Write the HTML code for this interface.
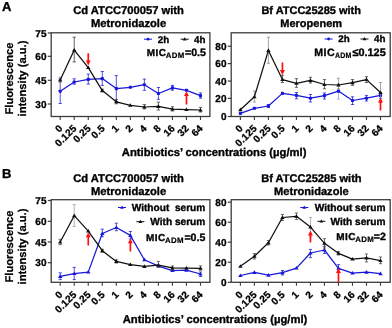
<!DOCTYPE html>
<html><head><meta charset="utf-8"><title>Figure</title>
<style>
html,body{margin:0;padding:0;background:#fff;}
svg{display:block}
text{font-family:"Liberation Sans",sans-serif;font-weight:bold;fill:#000;stroke:#000;stroke-width:0.35px;stroke-linejoin:round;text-rendering:geometricPrecision}
.pl{font-size:13px}
.tt{font-size:11.2px}
.tk{font-size:10px;letter-spacing:0.15px;stroke-width:0.3px}
.xt{font-size:10px;letter-spacing:0.2px;stroke-width:0.28px}
.yl{font-size:11.2px;stroke-width:0.22px}
.xl{font-size:11.25px}
.lg{font-size:9.8px}
.mic{font-size:10.6px}
.sub{font-size:8px;stroke-width:0.2px;letter-spacing:0.3px}
</style></head>
<body>
<svg width="392" height="328" viewBox="0 0 392 328">
<rect width="392" height="328" fill="#fff"/>
<text x="2.1" y="11.2" class="pl">A</text>
<text x="1.9" y="178.3" class="pl">B</text>
<rect x="51.2" y="32.8" width="158.7" height="83.7" fill="none" stroke="#3c3c3c" stroke-width="1.3"/>
<text x="128.6" y="13.7" class="tt" style="font-size:11.2px" text-anchor="middle">Cd ATCC700057 with</text>
<text x="128.6" y="26.9" class="tt" style="font-size:11.2px" text-anchor="middle">Metronidazole</text>
<line x1="47.8" y1="33.0" x2="51.2" y2="33.0" stroke="#3c3c3c" stroke-width="1.2"/>
<text x="46.8" y="36.75" text-anchor="end" class="tk">75</text>
<line x1="47.8" y1="56.3" x2="51.2" y2="56.3" stroke="#3c3c3c" stroke-width="1.2"/>
<text x="46.8" y="60.05" text-anchor="end" class="tk">60</text>
<line x1="47.8" y1="80.3" x2="51.2" y2="80.3" stroke="#3c3c3c" stroke-width="1.2"/>
<text x="46.8" y="84.05" text-anchor="end" class="tk">45</text>
<line x1="47.8" y1="104" x2="51.2" y2="104" stroke="#3c3c3c" stroke-width="1.2"/>
<text x="46.8" y="107.75" text-anchor="end" class="tk">30</text>
<line x1="60.20" y1="116.5" x2="60.20" y2="120.0" stroke="#3c3c3c" stroke-width="1.1"/>
<text transform="translate(63.40,128.90) rotate(-45)" text-anchor="end" class="xt">0</text>
<line x1="74.23" y1="116.5" x2="74.23" y2="120.0" stroke="#3c3c3c" stroke-width="1.1"/>
<text transform="translate(77.43,128.90) rotate(-45)" text-anchor="end" class="xt">0.125</text>
<line x1="88.26" y1="116.5" x2="88.26" y2="120.0" stroke="#3c3c3c" stroke-width="1.1"/>
<text transform="translate(91.46,128.90) rotate(-45)" text-anchor="end" class="xt">0.25</text>
<line x1="102.29" y1="116.5" x2="102.29" y2="120.0" stroke="#3c3c3c" stroke-width="1.1"/>
<text transform="translate(105.49,128.90) rotate(-45)" text-anchor="end" class="xt">0.5</text>
<line x1="116.32" y1="116.5" x2="116.32" y2="120.0" stroke="#3c3c3c" stroke-width="1.1"/>
<text transform="translate(119.52,128.90) rotate(-45)" text-anchor="end" class="xt">1</text>
<line x1="130.35" y1="116.5" x2="130.35" y2="120.0" stroke="#3c3c3c" stroke-width="1.1"/>
<text transform="translate(133.55,128.90) rotate(-45)" text-anchor="end" class="xt">2</text>
<line x1="144.38" y1="116.5" x2="144.38" y2="120.0" stroke="#3c3c3c" stroke-width="1.1"/>
<text transform="translate(147.58,128.90) rotate(-45)" text-anchor="end" class="xt">4</text>
<line x1="158.41" y1="116.5" x2="158.41" y2="120.0" stroke="#3c3c3c" stroke-width="1.1"/>
<text transform="translate(161.61,128.90) rotate(-45)" text-anchor="end" class="xt">8</text>
<line x1="172.44" y1="116.5" x2="172.44" y2="120.0" stroke="#3c3c3c" stroke-width="1.1"/>
<text transform="translate(175.64,128.90) rotate(-45)" text-anchor="end" class="xt">16</text>
<line x1="186.47" y1="116.5" x2="186.47" y2="120.0" stroke="#3c3c3c" stroke-width="1.1"/>
<text transform="translate(189.67,128.90) rotate(-45)" text-anchor="end" class="xt">32</text>
<line x1="200.50" y1="116.5" x2="200.50" y2="120.0" stroke="#3c3c3c" stroke-width="1.1"/>
<text transform="translate(203.70,128.90) rotate(-45)" text-anchor="end" class="xt">64</text>
<path d="M60.20 79V103.5M58.60 79h3.2M58.60 103.5h3.2" stroke="#1818d8" stroke-width="0.75" fill="none"/>
<path d="M74.23 78.8V84.2M72.63 78.8h3.2M72.63 84.2h3.2" stroke="#1818d8" stroke-width="0.75" fill="none"/>
<path d="M88.26 74V84.1M86.66 74h3.2M86.66 84.1h3.2" stroke="#1818d8" stroke-width="0.75" fill="none"/>
<path d="M102.29 71.5V85.4M100.69 71.5h3.2M100.69 85.4h3.2" stroke="#1818d8" stroke-width="0.75" fill="none"/>
<path d="M116.32 75.6V101.5M114.72 75.6h3.2M114.72 101.5h3.2" stroke="#1818d8" stroke-width="0.75" fill="none"/>
<path d="M144.38 79.1V90.3M142.78 79.1h3.2M142.78 90.3h3.2" stroke="#1818d8" stroke-width="0.75" fill="none"/>
<path d="M158.41 87.5V99.3M156.81 87.5h3.2M156.81 99.3h3.2" stroke="#1818d8" stroke-width="0.75" fill="none"/>
<path d="M172.44 85.4V90.2M170.84 85.4h3.2M170.84 90.2h3.2" stroke="#1818d8" stroke-width="0.75" fill="none"/>
<path d="M200.50 92.9V98.2M198.90 92.9h3.2M198.90 98.2h3.2" stroke="#1818d8" stroke-width="0.75" fill="none"/>
<path d="M60.20 91.2 L74.23 82 L88.26 79.4 L102.29 78.6 L116.32 88.6 L130.35 87.3 L144.38 84.7 L158.41 93.5 L172.44 87.9 L186.47 90.3 L200.50 95.6" stroke="#1818d8" stroke-width="1.25" fill="none" stroke-linejoin="round"/>
<rect x="58.65" y="89.65" width="3.1" height="3.1" rx="0.7" fill="#1818d8"/>
<rect x="72.68" y="80.45" width="3.1" height="3.1" rx="0.7" fill="#1818d8"/>
<rect x="86.71" y="77.85" width="3.1" height="3.1" rx="0.7" fill="#1818d8"/>
<rect x="100.74" y="77.05" width="3.1" height="3.1" rx="0.7" fill="#1818d8"/>
<rect x="114.77" y="87.05" width="3.1" height="3.1" rx="0.7" fill="#1818d8"/>
<rect x="128.80" y="85.75" width="3.1" height="3.1" rx="0.7" fill="#1818d8"/>
<rect x="142.83" y="83.15" width="3.1" height="3.1" rx="0.7" fill="#1818d8"/>
<rect x="156.86" y="91.95" width="3.1" height="3.1" rx="0.7" fill="#1818d8"/>
<rect x="170.89" y="86.35" width="3.1" height="3.1" rx="0.7" fill="#1818d8"/>
<rect x="184.92" y="88.75" width="3.1" height="3.1" rx="0.7" fill="#1818d8"/>
<rect x="198.95" y="94.05" width="3.1" height="3.1" rx="0.7" fill="#1818d8"/>
<path d="M60.20 77.3V82.2M58.60 77.3h3.2M58.60 82.2h3.2" stroke="#777" stroke-width="0.75" fill="none"/>
<path d="M74.23 37.2V61.9M72.63 37.2h3.2M72.63 61.9h3.2" stroke="#333" stroke-width="0.75" fill="none"/>
<path d="M102.29 89.2V92M100.69 89.2h3.2M100.69 92h3.2" stroke="#333" stroke-width="0.75" fill="none"/>
<path d="M116.32 99.6V103.8M114.72 99.6h3.2M114.72 103.8h3.2" stroke="#333" stroke-width="0.75" fill="none"/>
<path d="M144.38 104.6V108.9M142.78 104.6h3.2M142.78 108.9h3.2" stroke="#333" stroke-width="0.75" fill="none"/>
<path d="M158.41 102.1V110M156.81 102.1h3.2M156.81 110h3.2" stroke="#333" stroke-width="0.75" fill="none"/>
<path d="M172.44 106.8V111M170.84 106.8h3.2M170.84 111h3.2" stroke="#333" stroke-width="0.75" fill="none"/>
<path d="M200.50 107.4V112M198.90 107.4h3.2M198.90 112h3.2" stroke="#333" stroke-width="0.75" fill="none"/>
<path d="M60.20 80.0 L74.23 50.1 L88.26 67.6 L102.29 90.6 L116.32 101.8 L130.35 105.3 L144.38 107 L158.41 106.4 L172.44 109.1 L186.47 109.6 L200.50 110" stroke="#111" stroke-width="1.25" fill="none" stroke-linejoin="round"/>
<path d="M60.20 77.90l2.2 3.6h-4.4z" fill="#111"/>
<path d="M74.23 48.00l2.2 3.6h-4.4z" fill="#111"/>
<path d="M88.26 65.50l2.2 3.6h-4.4z" fill="#111"/>
<path d="M102.29 88.50l2.2 3.6h-4.4z" fill="#111"/>
<path d="M116.32 99.70l2.2 3.6h-4.4z" fill="#111"/>
<path d="M130.35 103.20l2.2 3.6h-4.4z" fill="#111"/>
<path d="M144.38 104.90l2.2 3.6h-4.4z" fill="#111"/>
<path d="M158.41 104.30l2.2 3.6h-4.4z" fill="#111"/>
<path d="M172.44 107.00l2.2 3.6h-4.4z" fill="#111"/>
<path d="M186.47 107.50l2.2 3.6h-4.4z" fill="#111"/>
<path d="M200.50 107.90l2.2 3.6h-4.4z" fill="#111"/>
<path d="M87.41 53.30H89.11V60.60H90.71L88.26 65.40L85.81 60.60H87.41Z" fill="#ff1010"/>
<path d="M185.62 104.40H187.32V96.10H188.92L186.47 91.30L184.02 96.10H185.62Z" fill="#ff1010"/>
<line x1="144" y1="39.2" x2="152" y2="39.2" stroke="#1818d8" stroke-width="1"/>
<circle cx="148" cy="39.2" r="1.4" fill="#1818d8"/>
<text x="157.8" y="42.5" class="lg" style="font-size:9.8px" text-anchor="start" xml:space="preserve">2h</text>
<line x1="180.7" y1="39.2" x2="188.7" y2="39.2" stroke="#111" stroke-width="1"/>
<path d="M184.7 37.3l1.9 3.1h-3.8z" fill="#111"/>
<text x="194" y="42.5" class="lg" style="font-size:9.8px" text-anchor="start" xml:space="preserve">4h</text>
<text x="146.7" y="55.9" class="mic" style="font-size:10.0px;letter-spacing:0.45px">MIC</text>
<text x="165.7" y="58.2" class="sub" style="font-size:8.0px" textLength="18.8" lengthAdjust="spacingAndGlyphs">ADM</text>
<text x="205.9" y="55.9" class="mic" style="font-size:10.6px" text-anchor="end">=0.5</text>
<text transform="translate(13.2,78.5) rotate(-90)" class="yl" text-anchor="middle">Fluorescence</text>
<text transform="translate(26.0,78.5) rotate(-90)" class="yl" text-anchor="middle">intensity (a.u.)</text>
<rect x="231.2" y="32.8" width="159.0" height="83.7" fill="none" stroke="#3c3c3c" stroke-width="1.3"/>
<text x="311.2" y="13.7" class="tt" style="font-size:11.0px" text-anchor="middle">Bf ATCC25285 with</text>
<text x="311.2" y="26.9" class="tt" style="font-size:11.0px" text-anchor="middle">Meropenem</text>
<line x1="227.8" y1="46.2" x2="231.2" y2="46.2" stroke="#3c3c3c" stroke-width="1.2"/>
<text x="226.8" y="49.95" text-anchor="end" class="tk">80</text>
<line x1="227.8" y1="63.6" x2="231.2" y2="63.6" stroke="#3c3c3c" stroke-width="1.2"/>
<text x="226.8" y="67.35" text-anchor="end" class="tk">60</text>
<line x1="227.8" y1="81" x2="231.2" y2="81" stroke="#3c3c3c" stroke-width="1.2"/>
<text x="226.8" y="84.75" text-anchor="end" class="tk">40</text>
<line x1="227.8" y1="98.4" x2="231.2" y2="98.4" stroke="#3c3c3c" stroke-width="1.2"/>
<text x="226.8" y="102.15" text-anchor="end" class="tk">20</text>
<line x1="227.8" y1="116.5" x2="231.2" y2="116.5" stroke="#3c3c3c" stroke-width="1.2"/>
<text x="226.8" y="120.25" text-anchor="end" class="tk">0</text>
<line x1="240.40" y1="116.5" x2="240.40" y2="120.0" stroke="#3c3c3c" stroke-width="1.1"/>
<text transform="translate(243.60,128.90) rotate(-45)" text-anchor="end" class="xt">0</text>
<line x1="254.41" y1="116.5" x2="254.41" y2="120.0" stroke="#3c3c3c" stroke-width="1.1"/>
<text transform="translate(257.61,128.90) rotate(-45)" text-anchor="end" class="xt">0.125</text>
<line x1="268.42" y1="116.5" x2="268.42" y2="120.0" stroke="#3c3c3c" stroke-width="1.1"/>
<text transform="translate(271.62,128.90) rotate(-45)" text-anchor="end" class="xt">0.25</text>
<line x1="282.43" y1="116.5" x2="282.43" y2="120.0" stroke="#3c3c3c" stroke-width="1.1"/>
<text transform="translate(285.63,128.90) rotate(-45)" text-anchor="end" class="xt">0.5</text>
<line x1="296.44" y1="116.5" x2="296.44" y2="120.0" stroke="#3c3c3c" stroke-width="1.1"/>
<text transform="translate(299.64,128.90) rotate(-45)" text-anchor="end" class="xt">1</text>
<line x1="310.45" y1="116.5" x2="310.45" y2="120.0" stroke="#3c3c3c" stroke-width="1.1"/>
<text transform="translate(313.65,128.90) rotate(-45)" text-anchor="end" class="xt">2</text>
<line x1="324.46" y1="116.5" x2="324.46" y2="120.0" stroke="#3c3c3c" stroke-width="1.1"/>
<text transform="translate(327.66,128.90) rotate(-45)" text-anchor="end" class="xt">4</text>
<line x1="338.47" y1="116.5" x2="338.47" y2="120.0" stroke="#3c3c3c" stroke-width="1.1"/>
<text transform="translate(341.67,128.90) rotate(-45)" text-anchor="end" class="xt">8</text>
<line x1="352.48" y1="116.5" x2="352.48" y2="120.0" stroke="#3c3c3c" stroke-width="1.1"/>
<text transform="translate(355.68,128.90) rotate(-45)" text-anchor="end" class="xt">16</text>
<line x1="366.49" y1="116.5" x2="366.49" y2="120.0" stroke="#3c3c3c" stroke-width="1.1"/>
<text transform="translate(369.69,128.90) rotate(-45)" text-anchor="end" class="xt">32</text>
<line x1="380.50" y1="116.5" x2="380.50" y2="120.0" stroke="#3c3c3c" stroke-width="1.1"/>
<text transform="translate(383.70,128.90) rotate(-45)" text-anchor="end" class="xt">64</text>
<path d="M268.42 104.5V107.5M266.82 104.5h3.2M266.82 107.5h3.2" stroke="#1818d8" stroke-width="0.75" fill="none"/>
<path d="M296.44 92.5V98.8M294.84 92.5h3.2M294.84 98.8h3.2" stroke="#1818d8" stroke-width="0.75" fill="none"/>
<path d="M310.45 94.5V102M308.85 94.5h3.2M308.85 102h3.2" stroke="#1818d8" stroke-width="0.75" fill="none"/>
<path d="M324.46 93V99M322.86 93h3.2M322.86 99h3.2" stroke="#1818d8" stroke-width="0.75" fill="none"/>
<path d="M338.47 83.9V99M336.87 83.9h3.2M336.87 99h3.2" stroke="#9a9ae8" stroke-width="0.75" fill="none"/>
<path d="M352.48 96.8V104.5M350.88 96.8h3.2M350.88 104.5h3.2" stroke="#1818d8" stroke-width="0.75" fill="none"/>
<path d="M366.49 95.4V101M364.89 95.4h3.2M364.89 101h3.2" stroke="#1818d8" stroke-width="0.75" fill="none"/>
<path d="M380.50 92.5V98.3M378.90 92.5h3.2M378.90 98.3h3.2" stroke="#1818d8" stroke-width="0.75" fill="none"/>
<path d="M240.40 113.4 L254.41 108.3 L268.42 106 L282.43 93.4 L296.44 95.4 L310.45 98.2 L324.46 95.6 L338.47 91.1 L352.48 100.5 L366.49 98.2 L380.50 95.4" stroke="#1818d8" stroke-width="1.25" fill="none" stroke-linejoin="round"/>
<rect x="238.85" y="111.85" width="3.1" height="3.1" rx="0.7" fill="#1818d8"/>
<rect x="252.86" y="106.75" width="3.1" height="3.1" rx="0.7" fill="#1818d8"/>
<rect x="266.87" y="104.45" width="3.1" height="3.1" rx="0.7" fill="#1818d8"/>
<rect x="280.88" y="91.85" width="3.1" height="3.1" rx="0.7" fill="#1818d8"/>
<rect x="294.89" y="93.85" width="3.1" height="3.1" rx="0.7" fill="#1818d8"/>
<rect x="308.90" y="96.65" width="3.1" height="3.1" rx="0.7" fill="#1818d8"/>
<rect x="322.91" y="94.05" width="3.1" height="3.1" rx="0.7" fill="#1818d8"/>
<rect x="336.92" y="89.55" width="3.1" height="3.1" rx="0.7" fill="#1818d8"/>
<rect x="350.93" y="98.95" width="3.1" height="3.1" rx="0.7" fill="#1818d8"/>
<rect x="364.94" y="96.65" width="3.1" height="3.1" rx="0.7" fill="#1818d8"/>
<rect x="378.95" y="93.85" width="3.1" height="3.1" rx="0.7" fill="#1818d8"/>
<path d="M254.41 91V102M252.81 91h3.2M252.81 102h3.2" stroke="#888" stroke-width="0.75" fill="none"/>
<path d="M268.42 37.2V63.3M266.82 37.2h3.2M266.82 63.3h3.2" stroke="#888" stroke-width="0.75" fill="none"/>
<path d="M282.43 75.3V82.5M280.83 75.3h3.2M280.83 82.5h3.2" stroke="#333" stroke-width="0.75" fill="none"/>
<path d="M296.44 78.7V87.3M294.84 78.7h3.2M294.84 87.3h3.2" stroke="#333" stroke-width="0.75" fill="none"/>
<path d="M310.45 77.3V83M308.85 77.3h3.2M308.85 83h3.2" stroke="#333" stroke-width="0.75" fill="none"/>
<path d="M324.46 79.6V88.8M322.86 79.6h3.2M322.86 88.8h3.2" stroke="#333" stroke-width="0.75" fill="none"/>
<path d="M338.47 78.2V88.8M336.87 78.2h3.2M336.87 88.8h3.2" stroke="#888" stroke-width="0.75" fill="none"/>
<path d="M352.48 79.6V85.3M350.88 79.6h3.2M350.88 85.3h3.2" stroke="#333" stroke-width="0.75" fill="none"/>
<path d="M366.49 76.7V82.5M364.89 76.7h3.2M364.89 82.5h3.2" stroke="#333" stroke-width="0.75" fill="none"/>
<path d="M380.50 82.5V102.5M378.90 82.5h3.2M378.90 102.5h3.2" stroke="#888" stroke-width="0.75" fill="none"/>
<path d="M240.40 109.7 L254.41 96.8 L268.42 50.4 L282.43 79.6 L296.44 83.3 L310.45 80.4 L324.46 84.5 L338.47 85 L352.48 82.7 L366.49 79.6 L380.50 92.5" stroke="#111" stroke-width="1.25" fill="none" stroke-linejoin="round"/>
<path d="M240.40 107.60l2.2 3.6h-4.4z" fill="#111"/>
<path d="M254.41 94.70l2.2 3.6h-4.4z" fill="#111"/>
<path d="M268.42 48.30l2.2 3.6h-4.4z" fill="#111"/>
<path d="M282.43 77.50l2.2 3.6h-4.4z" fill="#111"/>
<path d="M296.44 81.20l2.2 3.6h-4.4z" fill="#111"/>
<path d="M310.45 78.30l2.2 3.6h-4.4z" fill="#111"/>
<path d="M324.46 82.40l2.2 3.6h-4.4z" fill="#111"/>
<path d="M338.47 82.90l2.2 3.6h-4.4z" fill="#111"/>
<path d="M352.48 80.60l2.2 3.6h-4.4z" fill="#111"/>
<path d="M366.49 77.50l2.2 3.6h-4.4z" fill="#111"/>
<path d="M380.50 90.40l2.2 3.6h-4.4z" fill="#111"/>
<path d="M281.58 62.50H283.28V70.10H284.88L282.43 74.90L279.98 70.10H281.58Z" fill="#ff1010"/>
<path d="M379.65 110.50H381.35V102.50H382.95L380.50 97.70L378.05 102.50H379.65Z" fill="#ff1010"/>
<line x1="324.6" y1="39" x2="332.6" y2="39" stroke="#1818d8" stroke-width="1"/>
<circle cx="328.6" cy="39" r="1.4" fill="#1818d8"/>
<text x="338.2" y="42.2" class="lg" style="font-size:9.8px" text-anchor="start" xml:space="preserve">2h</text>
<line x1="360.5" y1="39" x2="368.5" y2="39" stroke="#111" stroke-width="1"/>
<path d="M364.5 37.1l1.9 3.1h-3.8z" fill="#111"/>
<text x="374" y="42.2" class="lg" style="font-size:9.8px" text-anchor="start" xml:space="preserve">4h</text>
<text x="314.2" y="56.1" class="mic" style="font-size:10.6px;letter-spacing:0.5px">MIC</text>
<text x="334.9" y="58.4" class="sub" style="font-size:8.0px" textLength="16.8" lengthAdjust="spacingAndGlyphs">ADM</text>
<text x="385.7" y="56.1" class="mic" style="font-size:10.9px" text-anchor="end">≤0.125</text>
<text x="214.1" y="156.2" class="xl" text-anchor="middle">Antibiotics’ concentrations (µg/ml)</text>
<rect x="51.2" y="199.7" width="158.7" height="82.6" fill="none" stroke="#3c3c3c" stroke-width="1.3"/>
<text x="128.6" y="181.5" class="tt" style="font-size:11.2px" text-anchor="middle">Cd ATCC700057 with</text>
<text x="128.6" y="194.7" class="tt" style="font-size:11.2px" text-anchor="middle">Metronidazole</text>
<line x1="47.8" y1="200.5" x2="51.2" y2="200.5" stroke="#3c3c3c" stroke-width="1.2"/>
<text x="46.8" y="204.25" text-anchor="end" class="tk">75</text>
<line x1="47.8" y1="221.3" x2="51.2" y2="221.3" stroke="#3c3c3c" stroke-width="1.2"/>
<text x="46.8" y="225.05" text-anchor="end" class="tk">60</text>
<line x1="47.8" y1="242" x2="51.2" y2="242" stroke="#3c3c3c" stroke-width="1.2"/>
<text x="46.8" y="245.75" text-anchor="end" class="tk">45</text>
<line x1="47.8" y1="262.7" x2="51.2" y2="262.7" stroke="#3c3c3c" stroke-width="1.2"/>
<text x="46.8" y="266.45" text-anchor="end" class="tk">30</text>
<line x1="60.20" y1="282.3" x2="60.20" y2="285.8" stroke="#3c3c3c" stroke-width="1.1"/>
<text transform="translate(63.40,295.20) rotate(-45)" text-anchor="end" class="xt">0</text>
<line x1="74.23" y1="282.3" x2="74.23" y2="285.8" stroke="#3c3c3c" stroke-width="1.1"/>
<text transform="translate(77.43,295.20) rotate(-45)" text-anchor="end" class="xt">0.125</text>
<line x1="88.26" y1="282.3" x2="88.26" y2="285.8" stroke="#3c3c3c" stroke-width="1.1"/>
<text transform="translate(91.46,295.20) rotate(-45)" text-anchor="end" class="xt">0.25</text>
<line x1="102.29" y1="282.3" x2="102.29" y2="285.8" stroke="#3c3c3c" stroke-width="1.1"/>
<text transform="translate(105.49,295.20) rotate(-45)" text-anchor="end" class="xt">0.5</text>
<line x1="116.32" y1="282.3" x2="116.32" y2="285.8" stroke="#3c3c3c" stroke-width="1.1"/>
<text transform="translate(119.52,295.20) rotate(-45)" text-anchor="end" class="xt">1</text>
<line x1="130.35" y1="282.3" x2="130.35" y2="285.8" stroke="#3c3c3c" stroke-width="1.1"/>
<text transform="translate(133.55,295.20) rotate(-45)" text-anchor="end" class="xt">2</text>
<line x1="144.38" y1="282.3" x2="144.38" y2="285.8" stroke="#3c3c3c" stroke-width="1.1"/>
<text transform="translate(147.58,295.20) rotate(-45)" text-anchor="end" class="xt">4</text>
<line x1="158.41" y1="282.3" x2="158.41" y2="285.8" stroke="#3c3c3c" stroke-width="1.1"/>
<text transform="translate(161.61,295.20) rotate(-45)" text-anchor="end" class="xt">8</text>
<line x1="172.44" y1="282.3" x2="172.44" y2="285.8" stroke="#3c3c3c" stroke-width="1.1"/>
<text transform="translate(175.64,295.20) rotate(-45)" text-anchor="end" class="xt">16</text>
<line x1="186.47" y1="282.3" x2="186.47" y2="285.8" stroke="#3c3c3c" stroke-width="1.1"/>
<text transform="translate(189.67,295.20) rotate(-45)" text-anchor="end" class="xt">32</text>
<line x1="200.50" y1="282.3" x2="200.50" y2="285.8" stroke="#3c3c3c" stroke-width="1.1"/>
<text transform="translate(203.70,295.20) rotate(-45)" text-anchor="end" class="xt">64</text>
<path d="M60.20 272.8V279.6M58.60 272.8h3.2M58.60 279.6h3.2" stroke="#1818d8" stroke-width="0.75" fill="none"/>
<path d="M74.23 267.4V279.6M72.63 267.4h3.2M72.63 279.6h3.2" stroke="#1818d8" stroke-width="0.75" fill="none"/>
<path d="M102.29 229.2V236.7M100.69 229.2h3.2M100.69 236.7h3.2" stroke="#1818d8" stroke-width="0.75" fill="none"/>
<path d="M116.32 223.2V230.7M114.72 223.2h3.2M114.72 230.7h3.2" stroke="#1818d8" stroke-width="0.75" fill="none"/>
<path d="M130.35 231.5V239M128.75 231.5h3.2M128.75 239h3.2" stroke="#1818d8" stroke-width="0.75" fill="none"/>
<path d="M200.50 272V276.6M198.90 272h3.2M198.90 276.6h3.2" stroke="#1818d8" stroke-width="0.75" fill="none"/>
<path d="M60.20 276.4 L74.23 273.6 L88.26 272.1 L102.29 233.5 L116.32 227.5 L130.35 235.4 L144.38 259.7 L158.41 266.1 L172.44 270.6 L186.47 270.2 L200.50 274.0" stroke="#1818d8" stroke-width="1.25" fill="none" stroke-linejoin="round"/>
<path d="M60.20 274.30l2.2 3.6h-4.4z" fill="#1818d8"/>
<path d="M74.23 271.50l2.2 3.6h-4.4z" fill="#1818d8"/>
<path d="M88.26 270.00l2.2 3.6h-4.4z" fill="#1818d8"/>
<path d="M102.29 231.40l2.2 3.6h-4.4z" fill="#1818d8"/>
<path d="M116.32 225.40l2.2 3.6h-4.4z" fill="#1818d8"/>
<path d="M130.35 233.30l2.2 3.6h-4.4z" fill="#1818d8"/>
<path d="M144.38 257.60l2.2 3.6h-4.4z" fill="#1818d8"/>
<path d="M158.41 264.00l2.2 3.6h-4.4z" fill="#1818d8"/>
<path d="M172.44 268.50l2.2 3.6h-4.4z" fill="#1818d8"/>
<path d="M186.47 268.10l2.2 3.6h-4.4z" fill="#1818d8"/>
<path d="M200.50 271.90l2.2 3.6h-4.4z" fill="#1818d8"/>
<path d="M60.20 239.3V244.7M58.60 239.3h3.2M58.60 244.7h3.2" stroke="#444" stroke-width="0.75" fill="none"/>
<path d="M74.23 204.6V226.4M72.63 204.6h3.2M72.63 226.4h3.2" stroke="#999" stroke-width="0.75" fill="none"/>
<path d="M102.29 249.3V252.2M100.69 249.3h3.2M100.69 252.2h3.2" stroke="#444" stroke-width="0.75" fill="none"/>
<path d="M116.32 259.8V263M114.72 259.8h3.2M114.72 263h3.2" stroke="#444" stroke-width="0.75" fill="none"/>
<path d="M158.41 261.4V267.2M156.81 261.4h3.2M156.81 267.2h3.2" stroke="#444" stroke-width="0.75" fill="none"/>
<path d="M172.44 266V269.8M170.84 266h3.2M170.84 269.8h3.2" stroke="#444" stroke-width="0.75" fill="none"/>
<path d="M200.50 265.9V270.2M198.90 265.9h3.2M198.90 270.2h3.2" stroke="#444" stroke-width="0.75" fill="none"/>
<path d="M60.20 242 L74.23 215.7 L88.26 231.1 L102.29 250.7 L116.32 261.4 L130.35 264.6 L144.38 266.4 L158.41 265.1 L172.44 267.9 L186.47 268.1 L200.50 268.3" stroke="#111" stroke-width="1.25" fill="none" stroke-linejoin="round"/>
<path d="M60.20 239.90l2.2 3.6h-4.4z" fill="#111"/>
<path d="M74.23 213.60l2.2 3.6h-4.4z" fill="#111"/>
<path d="M88.26 229.00l2.2 3.6h-4.4z" fill="#111"/>
<path d="M102.29 248.60l2.2 3.6h-4.4z" fill="#111"/>
<path d="M116.32 259.30l2.2 3.6h-4.4z" fill="#111"/>
<path d="M130.35 262.50l2.2 3.6h-4.4z" fill="#111"/>
<path d="M144.38 264.30l2.2 3.6h-4.4z" fill="#111"/>
<path d="M158.41 263.00l2.2 3.6h-4.4z" fill="#111"/>
<path d="M172.44 265.80l2.2 3.6h-4.4z" fill="#111"/>
<path d="M186.47 266.00l2.2 3.6h-4.4z" fill="#111"/>
<path d="M200.50 266.20l2.2 3.6h-4.4z" fill="#111"/>
<path d="M87.41 245.40H89.11V237.20H90.71L88.26 232.40L85.81 237.20H87.41Z" fill="#ff1010"/>
<path d="M129.50 251.50H131.20V243.20H132.80L130.35 238.40L127.90 243.20H129.50Z" fill="#ff1010"/>
<line x1="118" y1="207.5" x2="126" y2="207.5" stroke="#1818d8" stroke-width="1"/>
<path d="M122 205.6l1.9 3.1h-3.8z" fill="#1818d8"/>
<text x="205.3" y="210.6" class="lg" style="font-size:10.15px" text-anchor="end" xml:space="preserve">Without  serum</text>
<line x1="136.4" y1="221.7" x2="144.4" y2="221.7" stroke="#111" stroke-width="1"/>
<path d="M140.4 219.8l1.9 3.1h-3.8z" fill="#111"/>
<text x="205.3" y="225" class="lg" style="font-size:10.15px" text-anchor="end" xml:space="preserve">With serum</text>
<text x="146.1" y="240.8" class="mic" style="font-size:10.0px;letter-spacing:0.45px">MIC</text>
<text x="165.1" y="243.1" class="sub" style="font-size:8.0px" textLength="18.8" lengthAdjust="spacingAndGlyphs">ADM</text>
<text x="205.3" y="240.8" class="mic" style="font-size:10.6px" text-anchor="end">=0.5</text>
<text transform="translate(13.1,246.5) rotate(-90)" class="yl" text-anchor="middle">Fluorescence</text>
<text transform="translate(26.0,246.5) rotate(-90)" class="yl" text-anchor="middle">intensity (a.u.)</text>
<rect x="231.2" y="199.7" width="159.0" height="82.6" fill="none" stroke="#3c3c3c" stroke-width="1.3"/>
<text x="311.4" y="181.5" class="tt" style="font-size:11.1px" text-anchor="middle">Bf ATCC25285 with</text>
<text x="311.4" y="194.7" class="tt" style="font-size:11.1px" text-anchor="middle">Metronidazole</text>
<line x1="227.8" y1="202.2" x2="231.2" y2="202.2" stroke="#3c3c3c" stroke-width="1.2"/>
<text x="226.8" y="205.95" text-anchor="end" class="tk">80</text>
<line x1="227.8" y1="222.2" x2="231.2" y2="222.2" stroke="#3c3c3c" stroke-width="1.2"/>
<text x="226.8" y="225.95" text-anchor="end" class="tk">60</text>
<line x1="227.8" y1="242.2" x2="231.2" y2="242.2" stroke="#3c3c3c" stroke-width="1.2"/>
<text x="226.8" y="245.95" text-anchor="end" class="tk">40</text>
<line x1="227.8" y1="262.2" x2="231.2" y2="262.2" stroke="#3c3c3c" stroke-width="1.2"/>
<text x="226.8" y="265.95" text-anchor="end" class="tk">20</text>
<line x1="227.8" y1="282.3" x2="231.2" y2="282.3" stroke="#3c3c3c" stroke-width="1.2"/>
<text x="226.8" y="286.05" text-anchor="end" class="tk">0</text>
<line x1="240.40" y1="282.3" x2="240.40" y2="285.8" stroke="#3c3c3c" stroke-width="1.1"/>
<text transform="translate(243.60,295.20) rotate(-45)" text-anchor="end" class="xt">0</text>
<line x1="254.41" y1="282.3" x2="254.41" y2="285.8" stroke="#3c3c3c" stroke-width="1.1"/>
<text transform="translate(257.61,295.20) rotate(-45)" text-anchor="end" class="xt">0.125</text>
<line x1="268.42" y1="282.3" x2="268.42" y2="285.8" stroke="#3c3c3c" stroke-width="1.1"/>
<text transform="translate(271.62,295.20) rotate(-45)" text-anchor="end" class="xt">0.25</text>
<line x1="282.43" y1="282.3" x2="282.43" y2="285.8" stroke="#3c3c3c" stroke-width="1.1"/>
<text transform="translate(285.63,295.20) rotate(-45)" text-anchor="end" class="xt">0.5</text>
<line x1="296.44" y1="282.3" x2="296.44" y2="285.8" stroke="#3c3c3c" stroke-width="1.1"/>
<text transform="translate(299.64,295.20) rotate(-45)" text-anchor="end" class="xt">1</text>
<line x1="310.45" y1="282.3" x2="310.45" y2="285.8" stroke="#3c3c3c" stroke-width="1.1"/>
<text transform="translate(313.65,295.20) rotate(-45)" text-anchor="end" class="xt">2</text>
<line x1="324.46" y1="282.3" x2="324.46" y2="285.8" stroke="#3c3c3c" stroke-width="1.1"/>
<text transform="translate(327.66,295.20) rotate(-45)" text-anchor="end" class="xt">4</text>
<line x1="338.47" y1="282.3" x2="338.47" y2="285.8" stroke="#3c3c3c" stroke-width="1.1"/>
<text transform="translate(341.67,295.20) rotate(-45)" text-anchor="end" class="xt">8</text>
<line x1="352.48" y1="282.3" x2="352.48" y2="285.8" stroke="#3c3c3c" stroke-width="1.1"/>
<text transform="translate(355.68,295.20) rotate(-45)" text-anchor="end" class="xt">16</text>
<line x1="366.49" y1="282.3" x2="366.49" y2="285.8" stroke="#3c3c3c" stroke-width="1.1"/>
<text transform="translate(369.69,295.20) rotate(-45)" text-anchor="end" class="xt">32</text>
<line x1="380.50" y1="282.3" x2="380.50" y2="285.8" stroke="#3c3c3c" stroke-width="1.1"/>
<text transform="translate(383.70,295.20) rotate(-45)" text-anchor="end" class="xt">64</text>
<path d="M282.43 270.5V275M280.83 270.5h3.2M280.83 275h3.2" stroke="#1818d8" stroke-width="0.75" fill="none"/>
<path d="M310.45 249.4V257.6M308.85 249.4h3.2M308.85 257.6h3.2" stroke="#1818d8" stroke-width="0.75" fill="none"/>
<path d="M324.46 246.3V253.5M322.86 246.3h3.2M322.86 253.5h3.2" stroke="#1818d8" stroke-width="0.75" fill="none"/>
<path d="M338.47 264.6V272M336.87 264.6h3.2M336.87 272h3.2" stroke="#1818d8" stroke-width="0.75" fill="none"/>
<path d="M240.40 275.5 L254.41 272.4 L268.42 275.2 L282.43 272.7 L296.44 268.1 L310.45 253 L324.46 250 L338.47 268.3 L352.48 273.1 L366.49 272.2 L380.50 273.7" stroke="#1818d8" stroke-width="1.25" fill="none" stroke-linejoin="round"/>
<path d="M240.40 273.40l2.2 3.6h-4.4z" fill="#1818d8"/>
<path d="M254.41 270.30l2.2 3.6h-4.4z" fill="#1818d8"/>
<path d="M268.42 273.10l2.2 3.6h-4.4z" fill="#1818d8"/>
<path d="M282.43 270.60l2.2 3.6h-4.4z" fill="#1818d8"/>
<path d="M296.44 266.00l2.2 3.6h-4.4z" fill="#1818d8"/>
<path d="M310.45 250.90l2.2 3.6h-4.4z" fill="#1818d8"/>
<path d="M324.46 247.90l2.2 3.6h-4.4z" fill="#1818d8"/>
<path d="M338.47 266.20l2.2 3.6h-4.4z" fill="#1818d8"/>
<path d="M352.48 271.00l2.2 3.6h-4.4z" fill="#1818d8"/>
<path d="M366.49 270.10l2.2 3.6h-4.4z" fill="#1818d8"/>
<path d="M380.50 271.60l2.2 3.6h-4.4z" fill="#1818d8"/>
<path d="M254.41 253.5V259M252.81 253.5h3.2M252.81 259h3.2" stroke="#444" stroke-width="0.75" fill="none"/>
<path d="M268.42 240.5V245M266.82 240.5h3.2M266.82 245h3.2" stroke="#444" stroke-width="0.75" fill="none"/>
<path d="M282.43 214.5V220.5M280.83 214.5h3.2M280.83 220.5h3.2" stroke="#444" stroke-width="0.75" fill="none"/>
<path d="M296.44 213V219.5M294.84 213h3.2M294.84 219.5h3.2" stroke="#444" stroke-width="0.75" fill="none"/>
<path d="M310.45 217.4V237M308.85 217.4h3.2M308.85 237h3.2" stroke="#999" stroke-width="0.75" fill="none"/>
<path d="M324.46 238.7V248M322.86 238.7h3.2M322.86 248h3.2" stroke="#444" stroke-width="0.75" fill="none"/>
<path d="M338.47 251.5V255M336.87 251.5h3.2M336.87 255h3.2" stroke="#444" stroke-width="0.75" fill="none"/>
<path d="M366.49 254V261.9M364.89 254h3.2M364.89 261.9h3.2" stroke="#444" stroke-width="0.75" fill="none"/>
<path d="M380.50 257V263.7M378.90 257h3.2M378.90 263.7h3.2" stroke="#444" stroke-width="0.75" fill="none"/>
<path d="M240.40 266.3 L254.41 256.2 L268.42 242.8 L282.43 217.5 L296.44 216.3 L310.45 227.1 L324.46 243.3 L338.47 253.3 L352.48 259.1 L366.49 257.9 L380.50 260.6" stroke="#111" stroke-width="1.25" fill="none" stroke-linejoin="round"/>
<path d="M240.40 264.20l2.2 3.6h-4.4z" fill="#111"/>
<path d="M254.41 254.10l2.2 3.6h-4.4z" fill="#111"/>
<path d="M268.42 240.70l2.2 3.6h-4.4z" fill="#111"/>
<path d="M282.43 215.40l2.2 3.6h-4.4z" fill="#111"/>
<path d="M296.44 214.20l2.2 3.6h-4.4z" fill="#111"/>
<path d="M310.45 225.00l2.2 3.6h-4.4z" fill="#111"/>
<path d="M324.46 241.20l2.2 3.6h-4.4z" fill="#111"/>
<path d="M338.47 251.20l2.2 3.6h-4.4z" fill="#111"/>
<path d="M352.48 257.00l2.2 3.6h-4.4z" fill="#111"/>
<path d="M366.49 255.80l2.2 3.6h-4.4z" fill="#111"/>
<path d="M380.50 258.50l2.2 3.6h-4.4z" fill="#111"/>
<path d="M309.60 242.60H311.30V235.40H312.90L310.45 230.60L308.00 235.40H309.60Z" fill="#ff1010"/>
<path d="M337.62 282.20H339.32V272.90H340.92L338.47 268.10L336.02 272.90H337.62Z" fill="#ff1010"/>
<line x1="300.3" y1="207.5" x2="308.3" y2="207.5" stroke="#1818d8" stroke-width="1"/>
<path d="M304.3 205.6l1.9 3.1h-3.8z" fill="#1818d8"/>
<text x="385.5" y="210.6" class="lg" style="font-size:10.15px" text-anchor="end" xml:space="preserve">Without serum</text>
<line x1="317.4" y1="221.3" x2="325.4" y2="221.3" stroke="#111" stroke-width="1"/>
<path d="M321.4 219.4l1.9 3.1h-3.8z" fill="#111"/>
<text x="385.5" y="224.5" class="lg" style="font-size:10.15px" text-anchor="end" xml:space="preserve">With serum</text>
<text x="336.3" y="239.8" class="mic" style="font-size:10.0px;letter-spacing:0.45px">MIC</text>
<text x="355.3" y="242.1" class="sub" style="font-size:8.0px" textLength="18.8" lengthAdjust="spacingAndGlyphs">ADM</text>
<text x="385.8" y="239.8" class="mic" style="font-size:10.6px" text-anchor="end">=2</text>
<text x="215" y="322.9" class="xl" text-anchor="middle">Antibiotics’ concentrations (µg/ml)</text>
</svg>
</body></html>
